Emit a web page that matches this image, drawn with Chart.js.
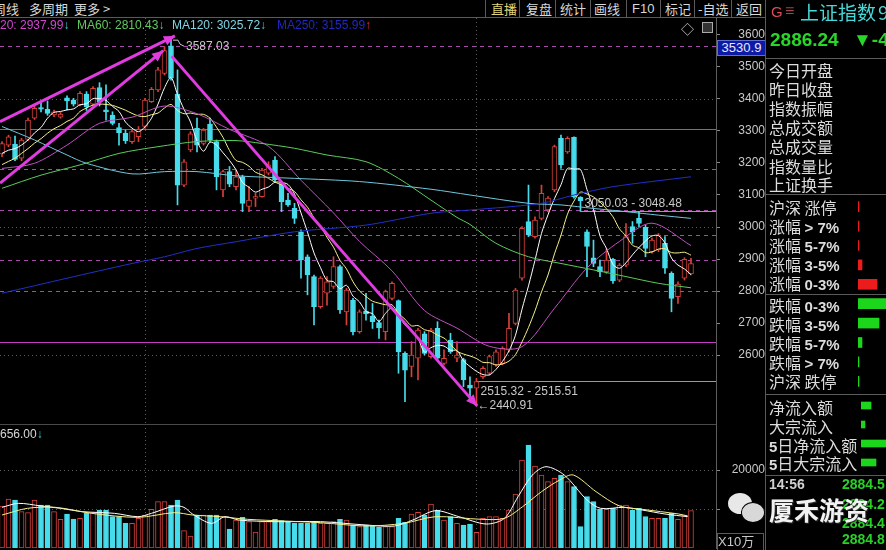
<!DOCTYPE html>
<html>
<head>
<meta charset="utf-8">
<script src="https://cdn.jsdelivr.net/npm/chart.js@4.4.0/dist/chart.umd.min.js"></script>
<style>
  body { margin: 0; background: #000; width: 886px; height: 550px; overflow: hidden; position: relative;
         font-family: "Liberation Sans", "Noto Sans CJK SC", sans-serif; color: #d8d8d8; }
  .abs { position: absolute; white-space: nowrap; }
  .cjk { font-family: "Noto Sans CJK SC", sans-serif; }
  .hl { position: absolute; height: 1px; background: #5a5a5a; }
  .vl { position: absolute; width: 1px; background: #5a5a5a; }
  .tb { font-size: 13px; line-height: 17px; top: 0; color: #d8d8d8; }
  .ma { font-size: 12px; line-height: 14px; top: 18px; }
  .row { font-size: 16px; line-height: 18px; left: 769px; color: #dcdcdc; }
  .row b { font-family: "Liberation Sans", sans-serif; font-size: 15px; }
  .tick { font-size: 14px; line-height: 16px; font-weight: bold; color: #28d028; left: 842px; }
  #price-box { position: absolute; left: 0; top: 18px; width: 765px; height: 406px; }
  #vol-box { position: absolute; left: 0; top: 424px; width: 765px; height: 126px; }
  #breadth-box { position: absolute; left: 858px; top: 197px; width: 28px; height: 194px; }
  #flow-box { position: absolute; left: 861px; top: 396px; width: 25px; height: 76px; }
</style>
</head>
<body>

<!-- toolbar -->
<div class="abs tb cjk" style="left:-7px">周线</div>
<div class="abs tb cjk" style="left:29px">多周期</div>
<div class="abs tb cjk" style="left:74px">更多 &gt;</div>
<div class="abs tb cjk" style="left:491px;color:#e2d47c">直播</div>
<div class="abs tb cjk" style="left:526px">复盘</div>
<div class="abs tb cjk" style="left:560px">统计</div>
<div class="abs tb cjk" style="left:594px">画线</div>
<div class="abs tb" style="left:632px">F10</div>
<div class="abs tb cjk" style="left:665px">标记</div>
<div class="abs tb cjk" style="left:698px">-自选</div>
<div class="abs tb cjk" style="left:736px">返回</div>
<div class="vl" style="left:485px;top:0;height:17px"></div>
<div class="vl" style="left:519px;top:0;height:17px"></div>
<div class="vl" style="left:555px;top:0;height:17px"></div>
<div class="vl" style="left:590px;top:0;height:17px"></div>
<div class="vl" style="left:626px;top:0;height:17px"></div>
<div class="vl" style="left:660px;top:0;height:17px"></div>
<div class="vl" style="left:694px;top:0;height:17px"></div>
<div class="vl" style="left:731px;top:0;height:17px"></div>
<div class="hl" style="left:0;top:17px;width:765px"></div>

<div id="price-box"><canvas id="price-chart"></canvas></div>
<div id="vol-box"><canvas id="vol-chart"></canvas></div>

<!-- MA legend -->
<div class="abs ma" style="left:0;color:#d048d0">20: 2937.99<span style="color:#40c8d8">↓</span></div>
<div class="abs ma" style="left:77px;color:#62c862">MA60: 2810.43<span style="color:#40c8d8">↓</span></div>
<div class="abs ma" style="left:172px;color:#80d4e4">MA120: 3025.72<span style="color:#40c8d8">↓</span></div>
<div class="abs ma" style="left:277px;color:#2028c0">MA250: 3155.99<span style="color:#e03030">↑</span></div>
<div class="abs" style="left:681px;top:19px;font-size:13px;color:#c8c8c8">◇</div>
<div class="abs" style="left:702px;top:22px;width:9px;height:9px;border:1px solid #aaa;background:#333"></div>

<div class="abs" style="left:717px;top:40px;width:47px;height:14px;background:#0c1aa6;border:1px solid #6070d0;font-size:13px;line-height:14px;color:#e8e8ff;text-align:center">3530.9</div>
<div class="abs" style="left:0;top:427px;font-size:12px;line-height:14px;color:#d8d8d8">656.00<span style="color:#40c8d8">↓</span></div>
<div class="abs" style="left:717px;top:533px;width:45px;height:16px;border:1px solid #5a5a5a;font-size:13px;line-height:16px;color:#c8c8c8" class="cjk">X10万</div>

<!-- right panel -->
<div class="vl" style="left:765px;top:0;height:550px"></div>
<div class="abs" style="left:771px;top:3px;font-size:15px;color:#e04858">G</div>
<div class="abs" style="left:785px;top:2px;font-size:16px;color:#a04848">≡</div>
<div class="abs cjk" style="left:800px;top:-2px;font-size:19px;color:#48d8d8">上证指数</div>
<div class="abs cjk" style="left:878px;top:-2px;font-size:19px;color:#48d8d8">9</div>
<div class="abs" style="left:770px;top:29px;font-size:19px;font-weight:bold;color:#28d828">2886.24</div>
<div class="abs" style="left:853px;top:29px;font-size:19px;font-weight:bold;color:#28d828">▼-4</div>
<div class="hl" style="left:765px;top:58px;width:121px"></div>

<div class="abs row cjk" style="top:61px">今日开盘</div>
<div class="abs row cjk" style="top:80px">昨日收盘</div>
<div class="abs row cjk" style="top:99px">指数振幅</div>
<div class="abs row cjk" style="top:118px">总成交额</div>
<div class="abs row cjk" style="top:137px">总成交量</div>
<div class="abs row cjk" style="top:157px">指数量比</div>
<div class="abs row cjk" style="top:175px">上证换手</div>
<div class="hl" style="left:765px;top:194px;width:121px"></div>
<div class="abs row cjk" style="top:198px">沪深 涨停</div>
<div class="abs row cjk" style="top:217px">涨幅 <b>&gt; 7%</b></div>
<div class="abs row cjk" style="top:236px">涨幅 <b>5-7%</b></div>
<div class="abs row cjk" style="top:255px">涨幅 <b>3-5%</b></div>
<div class="abs row cjk" style="top:274px">涨幅 <b>0-3%</b></div>
<div class="hl" style="left:765px;top:294px;width:121px"></div>
<div class="abs row cjk" style="top:296px">跌幅 <b>0-3%</b></div>
<div class="abs row cjk" style="top:315px">跌幅 <b>3-5%</b></div>
<div class="abs row cjk" style="top:334px">跌幅 <b>5-7%</b></div>
<div class="abs row cjk" style="top:353px">跌幅 <b>&gt; 7%</b></div>
<div class="abs row cjk" style="top:372px">沪深 跌停</div>
<div class="hl" style="left:765px;top:394px;width:121px"></div>
<div class="abs row cjk" style="top:398px">净流入额</div>
<div class="abs row cjk" style="top:417px">大宗流入</div>
<div class="abs row cjk" style="top:436px"><b>5</b>日净流入额</div>
<div class="abs row cjk" style="top:454px"><b>5</b>日大宗流入</div>
<div class="hl" style="left:765px;top:475px;width:121px"></div>
<div class="abs" style="left:769px;top:476px;font-size:14px;line-height:16px;font-weight:bold;color:#d0d0d0">14:56</div>
<div class="abs tick" style="top:476px">2884.5</div>
<div class="abs tick" style="top:496px">2884.2</div>
<div class="abs tick" style="top:515px">2884.4</div>
<div class="abs tick" style="top:531px">2884.8</div>

<div id="breadth-box"><canvas id="breadth-chart"></canvas></div>
<div id="flow-box"><canvas id="flow-chart"></canvas></div>

<!-- watermark -->
<div class="abs" style="left:728px;top:493px;width:24px;height:21px;border-radius:50%;background:#e8e8e8"></div>
<div class="abs" style="left:741px;top:502px;width:22px;height:19px;border-radius:50%;background:#d8d8d8;border:1px solid #000"></div>
<div class="abs cjk" style="left:769px;top:494px;font-size:25px;line-height:30px;font-weight:bold;color:#f2f2f2;text-shadow:1px 1px 1px #333">厦禾游资</div>

<script>
// --- DADOS ---
const candleOpen = [3228,3256,3259,3215,3274,3340,3373,3368,3350,3343,3404,3397,3381,3415,3384,3436,3366,3350,3311,3293,
  3267,3282,3314,3392,3428,3480,3566,3415,3131,3241,3308,3261,3322,3267,3116,3173,3126,3157,3064,3090,
  3095,3168,3209,3136,3084,3058,2985,2907,2845,2751,2793,2814,2876,2735,2772,2673,2737,2722,2701,2673,
  2777,2770,2605,2564,2590,2666,2595,2683,2574,2647,2590,2586,2506,2496,2532,2543,2569,2574,2616,2699,
  2840,3017,2970,3027,3053,3116,3277,3235,3280,3093,2985,2904,2876,2860,2899,2834,2881,3001,3027,2999,
  2923,2928,2949,2855,2782,2840,2853];
const candleHigh = [3267,3287,3284,3277,3340,3378,3389,3394,3365,3358,3410,3402,3423,3423,3439,3451,3444,3360,3324,3303,
  3303,3314,3402,3436,3499,3564,3587.03,3491,3211,3298,3340,3308,3340,3272,3178,3189,3178,3162,3126,3105,
  3183,3204,3220,3142,3105,3074,2991,2913,2850,2845,2845,2907,2881,2808,2777,2741,2793,2761,2709,2803,
  2829,2772,2610,2642,2683,2673,2683,2704,2616,2668,2642,2590,2532,2527,2564,2600,2616,2626,2730,2808,
  3001,3131,3032,3131,3095,3256,3287,3282,3282,3095,2991,2959,2897,2933,2902,2886,3011,3017,3048,3006,
  2965,2980,2970,2860,2829,2904,2902];
const candleLow = [3220,3251,3207,3207,3270,3336,3360,3349,3345,3340,3366,3378,3378,3364,3381,3378,3334,3319,3256,3261,
  3261,3267,3308,3389,3423,3475,3459,3069,3126,3235,3235,3256,3267,3116,3095,3126,3116,3048,3048,3064,
  3093,3163,3142,3048,3064,3011,2840,2788,2694,2746,2756,2808,2730,2694,2663,2668,2709,2683,2652,2647,
  2772,2543,2454,2532,2522,2600,2590,2584,2569,2605,2579,2501,2465,2440.91,2527,2537,2564,2569,2610,2694,
  2834,2970,2965,3022,3048,3110,3183,3230,3090,3048.48,2845,2876,2845,2855,2824,2829,2876,2949,3001,2907,
  2918,2923,2855,2735,2761,2834,2850];
const candleClose = [3261,3282,3211,3272,3334,3371,3368,3355,3360,3353,3394,3384,3418,3376,3433,3392,3360,3324,3295,3270,
  3298,3305,3397,3430,3491,3551,3465,3131,3204,3291,3256,3303,3272,3157,3173,3134,3157,3074,3084,3095,
  3178,3194,3147,3079,3069,3027,2897,2850,2751,2840,2829,2876,2741,2803,2673,2735,2728,2704,2685,2798,
  2824,2610,2553,2600,2678,2605,2678,2590,2590,2610,2600,2522,2496,2517,2558,2595,2610,2621,2683,2803,
  2996,2975,3022,3105,3090,3251,3194,3277,3095,3082,2939,2886,2860,2897,2832,2881,2970,2985,3011,2933,
  2959,2975,2871,2777,2822,2899,2886];
// volume, unidade X10万
const volumes = [10770,12560,12310,9320,9060,12310,11030,11030,9320,7350,8720,7440,7610,8890,9060,9740,9740,8030,8030,6320,
  6320,7610,8460,9920,11880,11880,11030,12310,4440,3080,8460,8460,8460,8460,8030,4870,7180,7860,6750,4100,
  6750,6750,7350,7010,6750,6320,6320,6320,6750,6320,6320,6750,7350,7180,5900,5470,5900,5640,5300,5470,
  5470,7610,6580,8720,9150,8460,11280,9740,7180,8030,6320,5900,6150,4020,7610,8030,8030,7610,9740,13850,
  22560,26410,21030,18720,17010,17860,18720,17010,15730,5470,13160,11880,9920,9920,10170,11030,11030,9740,10170,8030,
  7610,7610,7610,8890,7350,8460,9570];

// médias móveis de preço
const ma5 = [3230,3240,3245,3256,3272,3294,3311,3340,3358,3361,3366,3369,3382,3385,3401,3401,3396,3377,3361,3328,
  3309,3298,3313,3340,3384,3435,3467,3414,3368,3328,3269,3237,3265,3256,3232,3208,3179,3139,3124,3109,
  3118,3125,3140,3139,3133,3103,3044,2984,2919,2873,2833,2829,2807,2818,2784,2766,2736,2729,2705,2730,
  2748,2724,2694,2677,2653,2609,2623,2630,2628,2615,2614,2582,2564,2549,2539,2538,2555,2580,2613,2662,
  2743,2816,2896,2980,3038,3089,3132,3183,3181,3180,3117,3056,2972,2933,2883,2871,2888,2913,2936,2956,
  2972,2973,2950,2903,2881,2869,2851];
const ma10 = [3195,3205,3215,3230,3245,3262,3276,3293,3307,3317,3330,3340,3361,3372,3381,3384,3383,3380,3373,3365,
  3355,3347,3345,3351,3356,3372,3383,3364,3354,3356,3352,3352,3340,3312,3280,3239,3208,3202,3190,3171,
  3163,3152,3140,3132,3121,3111,3085,3062,3029,3003,2968,2937,2896,2869,2829,2800,2783,2768,2762,2757,
  2757,2730,2712,2691,2692,2679,2674,2662,2653,2634,2612,2603,2597,2589,2577,2576,2569,2572,2581,2601,
  2641,2686,2738,2797,2850,2916,2974,3040,3081,3109,3103,3094,3078,3057,3032,2994,2972,2943,2935,2920,
  2922,2931,2932,2920,2919,2921,2912];
// [índice, valor]
const ma20Pts = [[0,3183],[5,3199],[10,3256],[15,3324],[20,3343],[25,3378],[30,3354],[35,3305],[41,3252],[46,3146],
  [51,3044],[55,2955],[60,2863],[65,2739],[70,2684],[75,2627],[80,2626],[85,2746],[90,2872],[95,2955],[100,3012],[106,2942]];
const ma60Pts = [[0,3121],[6,3162],[12,3194],[18,3230],[24,3251],[30,3267],[36,3270],[40,3261],[45,3246],[50,3225],
  [56,3204],[61,3152],[66,3084],[70,3030],[72,3008],[76,2949],[81,2907],[86,2886],[91,2866],[96,2845],[101,2824],[106,2810]];
const ma120Pts = [[0,3314],[5,3272],[10,3225],[13,3199],[20,3166],[25,3173],[30,3173],[36,3160],[45,3152],[55,3142],
  [66,3118],[72,3100],[81,3074],[86,3069],[91,3058],[96,3048],[101,3037],[106,3027]];
const ma250Pts = [[0,2793],[10,2840],[20,2886],[25,2907],[30,2933],[36,2954],[45,2985],[56,3006],[66,3043],[72,3053],
  [83,3074],[88,3100],[94,3126],[106,3157]];

// médias do volume
const volMa5Pts = [[0,10430],[2.5,11450],[6,10770],[9,10170],[12.4,9320],[17.3,8890],[20.9,8030],[23,8890],[26.5,10770],
  [28,10430],[29.3,8720],[32.2,6320],[34.3,8030],[36.4,7180],[42,6750],[49,6750],[56,5900],[60.4,5640],[63.2,7180],
  [66.7,9570],[70.3,8030],[74.5,6150],[77.3,7610],[79.4,13160],[81.6,18720],[83.7,20850],[86.5,18720],[90,12310],
  [92.1,10170],[95.7,10430],[98.5,9740],[102,8720],[105.5,8030]];
const volMa10Pts = [[0,8460],[3.9,10170],[8.2,10430],[13.8,8890],[20.9,7860],[26.5,9060],[29.3,8460],[33.6,8030],
  [37.8,7350],[49,6500],[56,5640],[61.8,6320],[66.7,8030],[73.8,7350],[77.3,7610],[80.1,10600],[83,14440],[85.8,17440],
  [87.9,18720],[91.4,14440],[95,10770],[98.5,9920],[104.1,8720],[105.5,8200]];

// linhas desenhadas à mão: [índice, valor]
const arrowLines = [
  [[-0.3, 3329], [26.6, 3597]],
  [[-0.3, 3137], [24.8, 3551]],
  [[26.1, 3534], [73.1, 2441]]
];
const priceTicks = [2600, 2700, 2800, 2900, 3000, 3100, 3200, 3300, 3400, 3500, 3600];
const dottedLevels = [2600, 3000, 3400];
const dashedLevels = [3566, 3181, 3053, 2975, 2897, 2800];
const solidLevels = [3306, 2641];
const dividerIdx = [22, 73];
const gapMarks = [
  { from: 73, level: 2518, text: '2515.32 - 2515.51', below: true },
  { from: 89, level: 3051, text: '3050.03 - 3048.48', below: false }
];
const peakMark = { i: 26, value: 3587.03, text: '3587.03' };
const lowMark = { i: 73, value: 2440.91, text: '←2440.91' };
const volTicks = [10000, 20000];
const volTickLabels = ['', '20000'];

const breadthLabels = ['沪深涨停', '涨幅>7%', '涨幅5-7%', '涨幅3-5%', '涨幅0-3%', '跌幅0-3%', '跌幅3-5%', '跌幅5-7%', '跌幅>7%', '沪深跌停'];
const breadthValues = [1, 1, 1, 4, 19, 32, 21, 4, 1, 1];
const flowLabels = ['净流入额', '大宗流入', '5日净流入额', '5日大宗流入'];
const flowValues = [10, 4, 27, 15];

// --- CONFIGURAÇÕES ---
const UP = '#d8403a';
const DOWN = '#46dcec';
const X_MIN = -0.31;
const X_MAX = 109.85;
const LABEL_FONT = '12px "Liberation Sans", sans-serif';

const idx = candleClose.map((_, i) => i);
const isUp = i => candleClose[i] >= candleOpen[i];
const pts = arr => arr.map(([x, y]) => ({ x, y }));

const baseOptions = {
    responsive: true,
    maintainAspectRatio: false,
    animation: false,
    events: [],
    plugins: { legend: { display: false }, tooltip: { enabled: false } },
};

function maLine(data, color, width) {
    return { type: 'line', data, borderColor: color, borderWidth: width || 1, pointRadius: 0, tension: 0.3, fill: false, order: 5 };
}

function rightAxis(min, max, ticks, labels) {
    return {
        position: 'right', min, max,
        afterBuildTicks: axis => { axis.ticks = ticks.map(v => ({ value: v })); },
        afterFit: axis => { axis.width = 49; axis.paddingTop = 0; axis.paddingBottom = 0; },
        grid: { drawOnChartArea: false, drawTicks: true, tickLength: 4, tickColor: '#8a8a8a' },
        border: { display: true, color: '#5e5e5e' },
        ticks: {
            color: '#c8c8c8', padding: 2, crossAlign: 'far',
            font: { family: 'Liberation Sans', size: 12 },
            callback: (v, i) => labels ? labels[i] : String(v)
        }
    };
}

function hLine(ctx, a, py, dash, color, x0) {
    ctx.setLineDash(dash);
    ctx.strokeStyle = color;
    ctx.beginPath();
    ctx.moveTo(x0 !== undefined ? x0 : a.left, Math.round(py) + 0.5);
    ctx.lineTo(a.right, Math.round(py) + 0.5);
    ctx.stroke();
}

function vDividers(chart) {
    const { ctx, chartArea: a, scales: { x } } = chart;
    ctx.setLineDash([1, 3]);
    ctx.strokeStyle = '#5c5c5c';
    dividerIdx.forEach(i => {
        const px = Math.round(x.getPixelForValue(i)) + 0.5;
        ctx.beginPath(); ctx.moveTo(px, a.top); ctx.lineTo(px, a.bottom); ctx.stroke();
    });
}

const priceOverlay = {
    id: 'priceOverlay',
    beforeDatasetsDraw(chart) {
        const { ctx, chartArea: a, scales: { x, y } } = chart;
        ctx.save();
        ctx.lineWidth = 1;
        vDividers(chart);
        dottedLevels.forEach(v => hLine(ctx, a, y.getPixelForValue(v), [1, 3], '#5c5c5c'));
        dashedLevels.forEach(v => hLine(ctx, a, y.getPixelForValue(v), [4, 4], '#a848a8'));
        solidLevels.forEach(v => hLine(ctx, a, y.getPixelForValue(v), [], '#c23cc2'));
        gapMarks.forEach(g => hLine(ctx, a, y.getPixelForValue(g.level), [], '#9a9a9a', x.getPixelForValue(g.from)));
        ctx.restore();
    },
    afterDatasetsDraw(chart) {
        const { ctx, scales: { x, y } } = chart;
        ctx.save();
        // pontas das setas
        ctx.fillStyle = '#e03ce0';
        arrowLines.forEach(line => {
            const [p0, p1] = line;
            const x0 = x.getPixelForValue(p0[0]), y0 = y.getPixelForValue(p0[1]);
            const x1 = x.getPixelForValue(p1[0]), y1 = y.getPixelForValue(p1[1]);
            const ang = Math.atan2(y1 - y0, x1 - x0);
            ctx.beginPath();
            ctx.moveTo(x1, y1);
            ctx.lineTo(x1 - 11 * Math.cos(ang) + 5 * Math.sin(ang), y1 - 11 * Math.sin(ang) - 5 * Math.cos(ang));
            ctx.lineTo(x1 - 11 * Math.cos(ang) - 5 * Math.sin(ang), y1 - 11 * Math.sin(ang) + 5 * Math.cos(ang));
            ctx.closePath();
            ctx.fill();
        });
        // rótulos
        ctx.font = LABEL_FONT;
        ctx.fillStyle = '#c8c8c8';
        ctx.textBaseline = 'middle';
        gapMarks.forEach(g => {
            const py = y.getPixelForValue(g.level);
            ctx.fillText(g.text, x.getPixelForValue(g.from) + 4, g.below ? py + 10 : py - 7);
        });
        const hx = x.getPixelForValue(peakMark.i), hy = y.getPixelForValue(peakMark.value);
        ctx.strokeStyle = '#c8c8c8';
        ctx.beginPath(); ctx.moveTo(hx + 2, hy + 1); ctx.lineTo(hx + 7, hy + 1); ctx.lineTo(hx + 9, hy + 5); ctx.lineTo(hx + 13, hy + 7); ctx.stroke();
        ctx.fillText(peakMark.text, hx + 15, hy + 8);
        ctx.fillText(lowMark.text, x.getPixelForValue(lowMark.i) + 1, y.getPixelForValue(lowMark.value));
        ctx.restore();
    }
};

const volOverlay = {
    id: 'volOverlay',
    beforeDatasetsDraw(chart) {
        const { ctx, chartArea: a, scales: { y } } = chart;
        ctx.save();
        ctx.lineWidth = 1;
        vDividers(chart);
        volTicks.forEach(v => hLine(ctx, a, y.getPixelForValue(v), [1, 3], '#5c5c5c'));
        hLine(ctx, a, a.top, [], '#4a4a4a');
        ctx.restore();
    }
};

// --- GRÁFICO DE PREÇO ---
new Chart(document.getElementById('price-chart'), {
    type: 'bar',
    data: {
        datasets: [
            {
                type: 'bar', data: idx.map(i => ({ x: i, y: [candleLow[i], candleHigh[i]] })),
                backgroundColor: idx.map(i => isUp(i) ? UP : DOWN), barThickness: 1, grouped: false, order: 20
            },
            {
                type: 'bar', data: idx.map(i => ({ x: i, y: [candleOpen[i], candleClose[i]] })),
                backgroundColor: idx.map(i => isUp(i) ? '#000' : DOWN),
                borderColor: idx.map(i => isUp(i) ? UP : DOWN),
                borderWidth: 1, borderSkipped: false, barThickness: 5, minBarLength: 1, grouped: false, order: 15
            },
            maLine(pts(ma250Pts), '#2030c8'),
            maLine(pts(ma120Pts), '#70c8dc'),
            maLine(pts(ma60Pts), '#5ccc5c'),
            maLine(pts(ma20Pts), '#c050c0'),
            maLine(ma10.map((v, i) => ({ x: i, y: v })), '#f4f08a'),
            maLine(ma5.map((v, i) => ({ x: i, y: v })), '#ffffff'),
            ...arrowLines.map(l => ({
                type: 'line', data: pts(l), borderColor: '#e03ce0', borderWidth: 3, pointRadius: 0, tension: 0, order: 1
            }))
        ]
    },
    options: {
        ...baseOptions,
        layout: { padding: 0 },
        scales: {
            x: { type: 'linear', min: X_MIN, max: X_MAX, offset: false, display: false },
            y: rightAxis(2384.4, 3653.1, priceTicks)
        }
    },
    plugins: [priceOverlay]
});

// --- GRÁFICO DE VOLUME ---
new Chart(document.getElementById('vol-chart'), {
    type: 'bar',
    data: {
        datasets: [
            {
                type: 'bar', data: idx.map(i => ({ x: i, y: volumes[i] })),
                backgroundColor: idx.map(i => isUp(i) ? '#000' : DOWN),
                borderColor: idx.map(i => isUp(i) ? UP : DOWN),
                borderWidth: 1, borderSkipped: false, barThickness: 5, grouped: false, order: 10
            },
            maLine(pts(volMa10Pts), '#f4f08a'),
            maLine(pts(volMa5Pts), '#ffffff')
        ]
    },
    options: {
        ...baseOptions,
        layout: { padding: { bottom: 2 } },
        scales: {
            x: { type: 'linear', min: X_MIN, max: X_MAX, offset: false, display: false },
            y: rightAxis(0, 31800, volTicks, volTickLabels)
        }
    },
    plugins: [volOverlay]
});

// --- BARRAS DO PAINEL DIREITO ---
function sideBars(id, labels, values, colors, max, thickness) {
    new Chart(document.getElementById(id), {
        type: 'bar',
        data: { labels, datasets: [{ data: values, backgroundColor: colors, barThickness: thickness }] },
        options: {
            ...baseOptions,
            indexAxis: 'y',
            layout: { padding: 0 },
            scales: { x: { display: false, min: 0, max }, y: { display: false } }
        }
    });
}
sideBars('breadth-chart', breadthLabels, breadthValues, breadthValues.map((_, i) => i < 5 ? '#ec1c1c' : '#1cd61c'), 28, 10);
sideBars('flow-chart', flowLabels, flowValues, '#1cd61c', 25, 7);
</script>
</body>
</html>
